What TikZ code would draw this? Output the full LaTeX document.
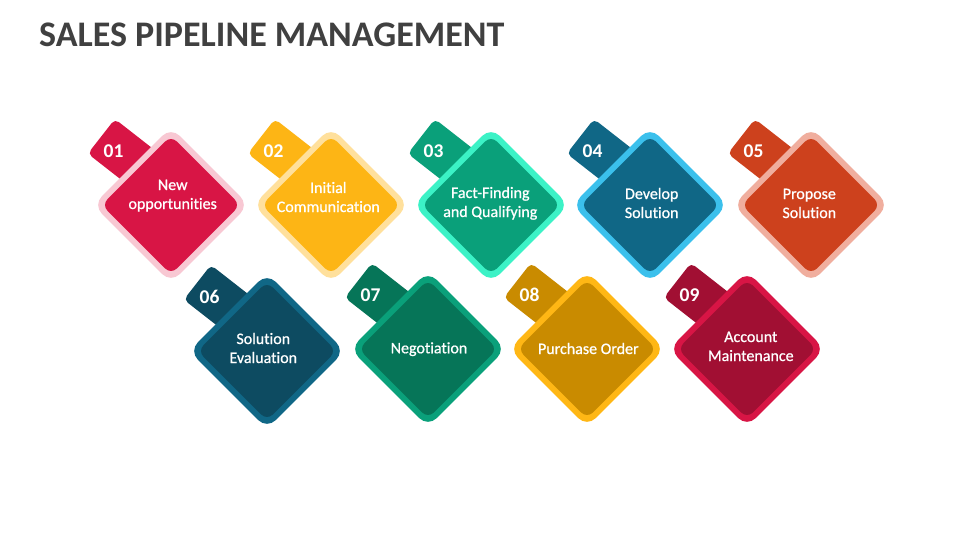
\documentclass[tikz,border=0pt]{standalone}
\usepackage{fontspec}
\setmainfont{Carlito}
\newfontfamily\lblfont{Carlito}[FakeBold=0.8, Ligatures=NoCommon]
\definecolor{titlegray}{HTML}{404040}
\definecolor{c1m}{HTML}{D81545}\definecolor{c1r}{HTML}{F8C8D3}
\definecolor{c2m}{HTML}{FDB515}\definecolor{c2r}{HTML}{FFE09C}
\definecolor{c3m}{HTML}{0AA07A}\definecolor{c3r}{HTML}{3CF2C6}
\definecolor{c4m}{HTML}{106786}\definecolor{c4r}{HTML}{3BC0EC}
\definecolor{c5m}{HTML}{CD411D}\definecolor{c5r}{HTML}{F0AE9E}
\definecolor{c6m}{HTML}{0D4B61}\definecolor{c6r}{HTML}{106786}
\definecolor{c7m}{HTML}{067558}\definecolor{c7r}{HTML}{0AA07A}
\definecolor{c8m}{HTML}{C98B00}\definecolor{c8r}{HTML}{FFB715}
\definecolor{c9m}{HTML}{A10F33}\definecolor{c9r}{HTML}{D81545}
\tikzset{
  ringbox/.style={rectangle, rounded corners=12pt, minimum size=110pt, inner sep=0pt, rotate=45, fill=#1},
  corebox/.style={rectangle, rounded corners=8pt, minimum size=98pt, inner sep=0pt, rotate=45, fill=#1},
  tabbox/.style={rectangle, rounded corners=5pt, minimum width=60pt, minimum height=44pt, inner sep=0pt, rotate=-38, fill=#1},
  numtext/.style={font=\fontsize{19.5}{20}\selectfont\bfseries, text=white, inner sep=0pt, anchor=base},
  lbltext/.style={font=\lblfont\fontsize{16}{19}\selectfont, text=white, inner sep=0pt, anchor=base},
  titletext/.style={font=\fontsize{36}{40}\selectfont\bfseries, text=titlegray, inner sep=0pt, anchor=base west}
}
% #1 id, #2 x, #3 y, #4 number, #5 line1, #6 line2, #7 label x, #8 baseline of line1
\newcommand\pipeitem[8]{%
  \node[tabbox=c#1m] (t#1) at (#2-46,#3-50.2) {};
  \node[ringbox=c#1r] (r#1) at (#2,#3) {};
  \node[corebox=c#1m] (c#1) at (#2,#3) {};
  \node[numtext] (n#1) at (#2-57.5,#3-47.3) {#4};
  \node[lbltext] (la#1) at (#7,#8) {#5};
  \node[lbltext] (lb#1) at (#7,#8+19) {#6};
}
\begin{document}
\begin{tikzpicture}[x=1pt,y=-1pt]
\useasboundingbox[fill=white] (0,0) rectangle (960,540);
\node[titletext] (title) at (39,46.7) {SALES PIPELINE MANAGEMENT};
\pipeitem{1}{171}{205}{01}{New}{opportunities}{172.7}{190}
\pipeitem{2}{331}{205}{02}{Initial}{Communication}{328.3}{193}
\pipeitem{3}{491}{205}{03}{Fact-Finding}{and Qualifying}{490.3}{198}
\pipeitem{4}{650}{205}{04}{Develop}{Solution}{651.7}{199}
\pipeitem{5}{811}{205}{05}{Propose}{Solution}{809.3}{199}
\pipeitem{6}{267}{351}{06}{Solution}{Evaluation}{263.3}{344}
\pipeitem{7}{428}{349}{07}{Negotiation}{}{429}{353.3}
\pipeitem{8}{587}{349}{08}{Purchase Order}{}{588.3}{354}
\pipeitem{9}{747}{349}{09}{Account}{Maintenance}{750.8}{342}
\end{tikzpicture}
\end{document}
